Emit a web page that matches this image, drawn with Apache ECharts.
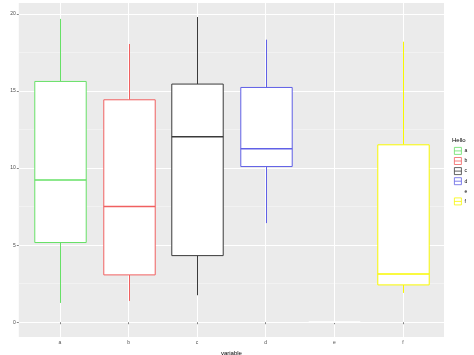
<!DOCTYPE html>
<html>
<head>
<meta charset="utf-8">
<script src="https://cdn.jsdelivr.net/npm/echarts@6/dist/echarts.min.js"></script>
<style>
html,body{margin:0;padding:0;background:#fff;}
#chart{width:474px;height:355px;}
</style>
</head>
<body>
<div id="chart"></div>
<script>
// ---- data ----
const categories = ['a', 'b', 'c', 'd', 'e', 'f'];
const lowerWhisker = [1.25, 1.38, 1.75, 6.43, 0, 1.9];
const q1 = [5.17, 3.07, 4.32, 10.10, 0, 2.42];
const median = [9.22, 7.51, 12.03, 11.25, 0, 3.12];
const q3 = [15.62, 14.43, 15.45, 15.23, 0, 11.51];
const upperWhisker = [19.68, 18.05, 19.80, 18.33, 0, 18.20];
const boxColors = ['#66E066', '#F06060', '#3A3A3A', '#6060E6', '#FFFFFF', '#F8F800'];
const yTicks = [0, 5, 10, 15, 20];
const yMinorTicks = [2.5, 7.5, 12.5, 17.5];
const xTicks = [1, 2, 3, 4, 5, 6];

const FONT = '"Liberation Sans", Arial, sans-serif';

function renderBox(params, api) {
  const x = api.value(0);
  const pLo = api.coord([x, api.value(1)]);
  const pQ1 = api.coord([x, api.value(2)]);
  const pMed = api.coord([x, api.value(3)]);
  const pQ3 = api.coord([x, api.value(4)]);
  const pHi = api.coord([x, api.value(5)]);
  const bw = api.size([0.75, 0])[0];
  const col = api.visual('color');
  const cx = Math.round(pMed[0]) + 0.5;
  return {
    type: 'group',
    children: [
      {type: 'line', shape: {x1: cx, y1: pQ3[1], x2: cx, y2: pHi[1]}, style: {stroke: col, lineWidth: 1}},
      {type: 'line', shape: {x1: cx, y1: pLo[1], x2: cx, y2: pQ1[1]}, style: {stroke: col, lineWidth: 1}},
      {type: 'rect', shape: {x: cx - bw / 2, y: pQ3[1], width: bw, height: pQ1[1] - pQ3[1]},
        style: {fill: '#FFFFFF', stroke: col, lineWidth: 1}},
      {type: 'line', shape: {x1: cx - bw / 2, y1: pMed[1], x2: cx + bw / 2, y2: pMed[1]}, style: {stroke: col, lineWidth: 1.5}}
    ]
  };
}

const gridLines = [];
yTicks.forEach(v => gridLines.push({yAxis: v, lineStyle: {color: '#FFFFFF', width: 1}}));
yMinorTicks.forEach(v => gridLines.push({yAxis: v, lineStyle: {color: '#F6F6F6', width: 0.6}}));
xTicks.forEach(v => gridLines.push({xAxis: v, lineStyle: {color: '#FFFFFF', width: 1}}));

const series = [{
  type: 'line',
  name: '__grid',
  data: [],
  z: 0,
  silent: true,
  markLine: {
    z: 0,
    silent: true,
    symbol: ['none', 'none'],
    label: {show: false},
    lineStyle: {type: 'solid'},
    animation: false,
    data: gridLines
  }
}];

categories.forEach((cat, i) => {
  series.push({
    type: 'custom',
    name: cat,
    z: 3,
    renderItem: renderBox,
    itemStyle: {color: boxColors[i]},
    encode: {x: 0, y: [1, 2, 3, 4, 5]},
    data: [[xTicks[i], lowerWhisker[i], q1[i], median[i], q3[i], upperWhisker[i]]]
  });
});

const chart = echarts.init(document.getElementById('chart'), null, {renderer: 'canvas'});
chart.setOption({
  animation: false,
  backgroundColor: '#FFFFFF',
  textStyle: {fontFamily: FONT},
  title: {
    text: 'Hello',
    left: 452,
    top: 137,
    padding: 0,
    textStyle: {fontSize: 6, fontWeight: 'normal', color: '#000', fontFamily: FONT}
  },
  legend: {
    orient: 'vertical',
    left: 454,
    top: 147,
    itemWidth: 7,
    itemHeight: 7,
    itemGap: 2.3,
    padding: 0,
    textStyle: {fontSize: 5, color: '#000', fontFamily: FONT, padding: [0, 0, 0, -2]},
    data: categories.map((c, i) => ({
      name: c,
      icon: 'path://M0,0 L10,0 L10,10 L0,10 Z M0,5 L10,5',
      itemStyle: {color: '#FFFFFF', borderColor: boxColors[i], borderWidth: 0.8}
    }))
  },
  grid: {
    left: 18.8, right: 30, top: 3, bottom: 18,
    show: true, backgroundColor: '#EBEBEB', borderWidth: 0,
    containLabel: false, outerBoundsMode: 'none'
  },
  xAxis: {
    type: 'value',
    min: 0.4, max: 6.6,
    name: 'variable',
    nameLocation: 'middle',
    nameGap: 12,
    nameTextStyle: {fontSize: 6, color: '#000', fontFamily: FONT},
    axisLine: {show: false},
    axisTick: {show: true, length: 2, lineStyle: {color: '#333333', width: 0.6}, customValues: xTicks},
    axisLabel: {
      customValues: xTicks,
      fontSize: 5, color: '#4D4D4D', margin: 3.5, fontFamily: FONT,
      formatter: v => categories[Math.round(v) - 1] || ''
    },
    splitLine: {show: false}
  },
  yAxis: {
    type: 'value',
    min: -0.96, max: 20.71,
    name: 'value',
    nameLocation: 'middle',
    nameGap: 12,
    nameTextStyle: {fontSize: 6, color: '#000', fontFamily: FONT},
    axisLine: {show: false},
    axisTick: {show: true, length: 2, lineStyle: {color: '#333333', width: 0.6}, customValues: yTicks},
    axisLabel: {customValues: yTicks, fontSize: 5, color: '#4D4D4D', margin: 3, fontFamily: FONT},
    splitLine: {show: false}
  },
  series: series
});
</script>
</body>
</html>
